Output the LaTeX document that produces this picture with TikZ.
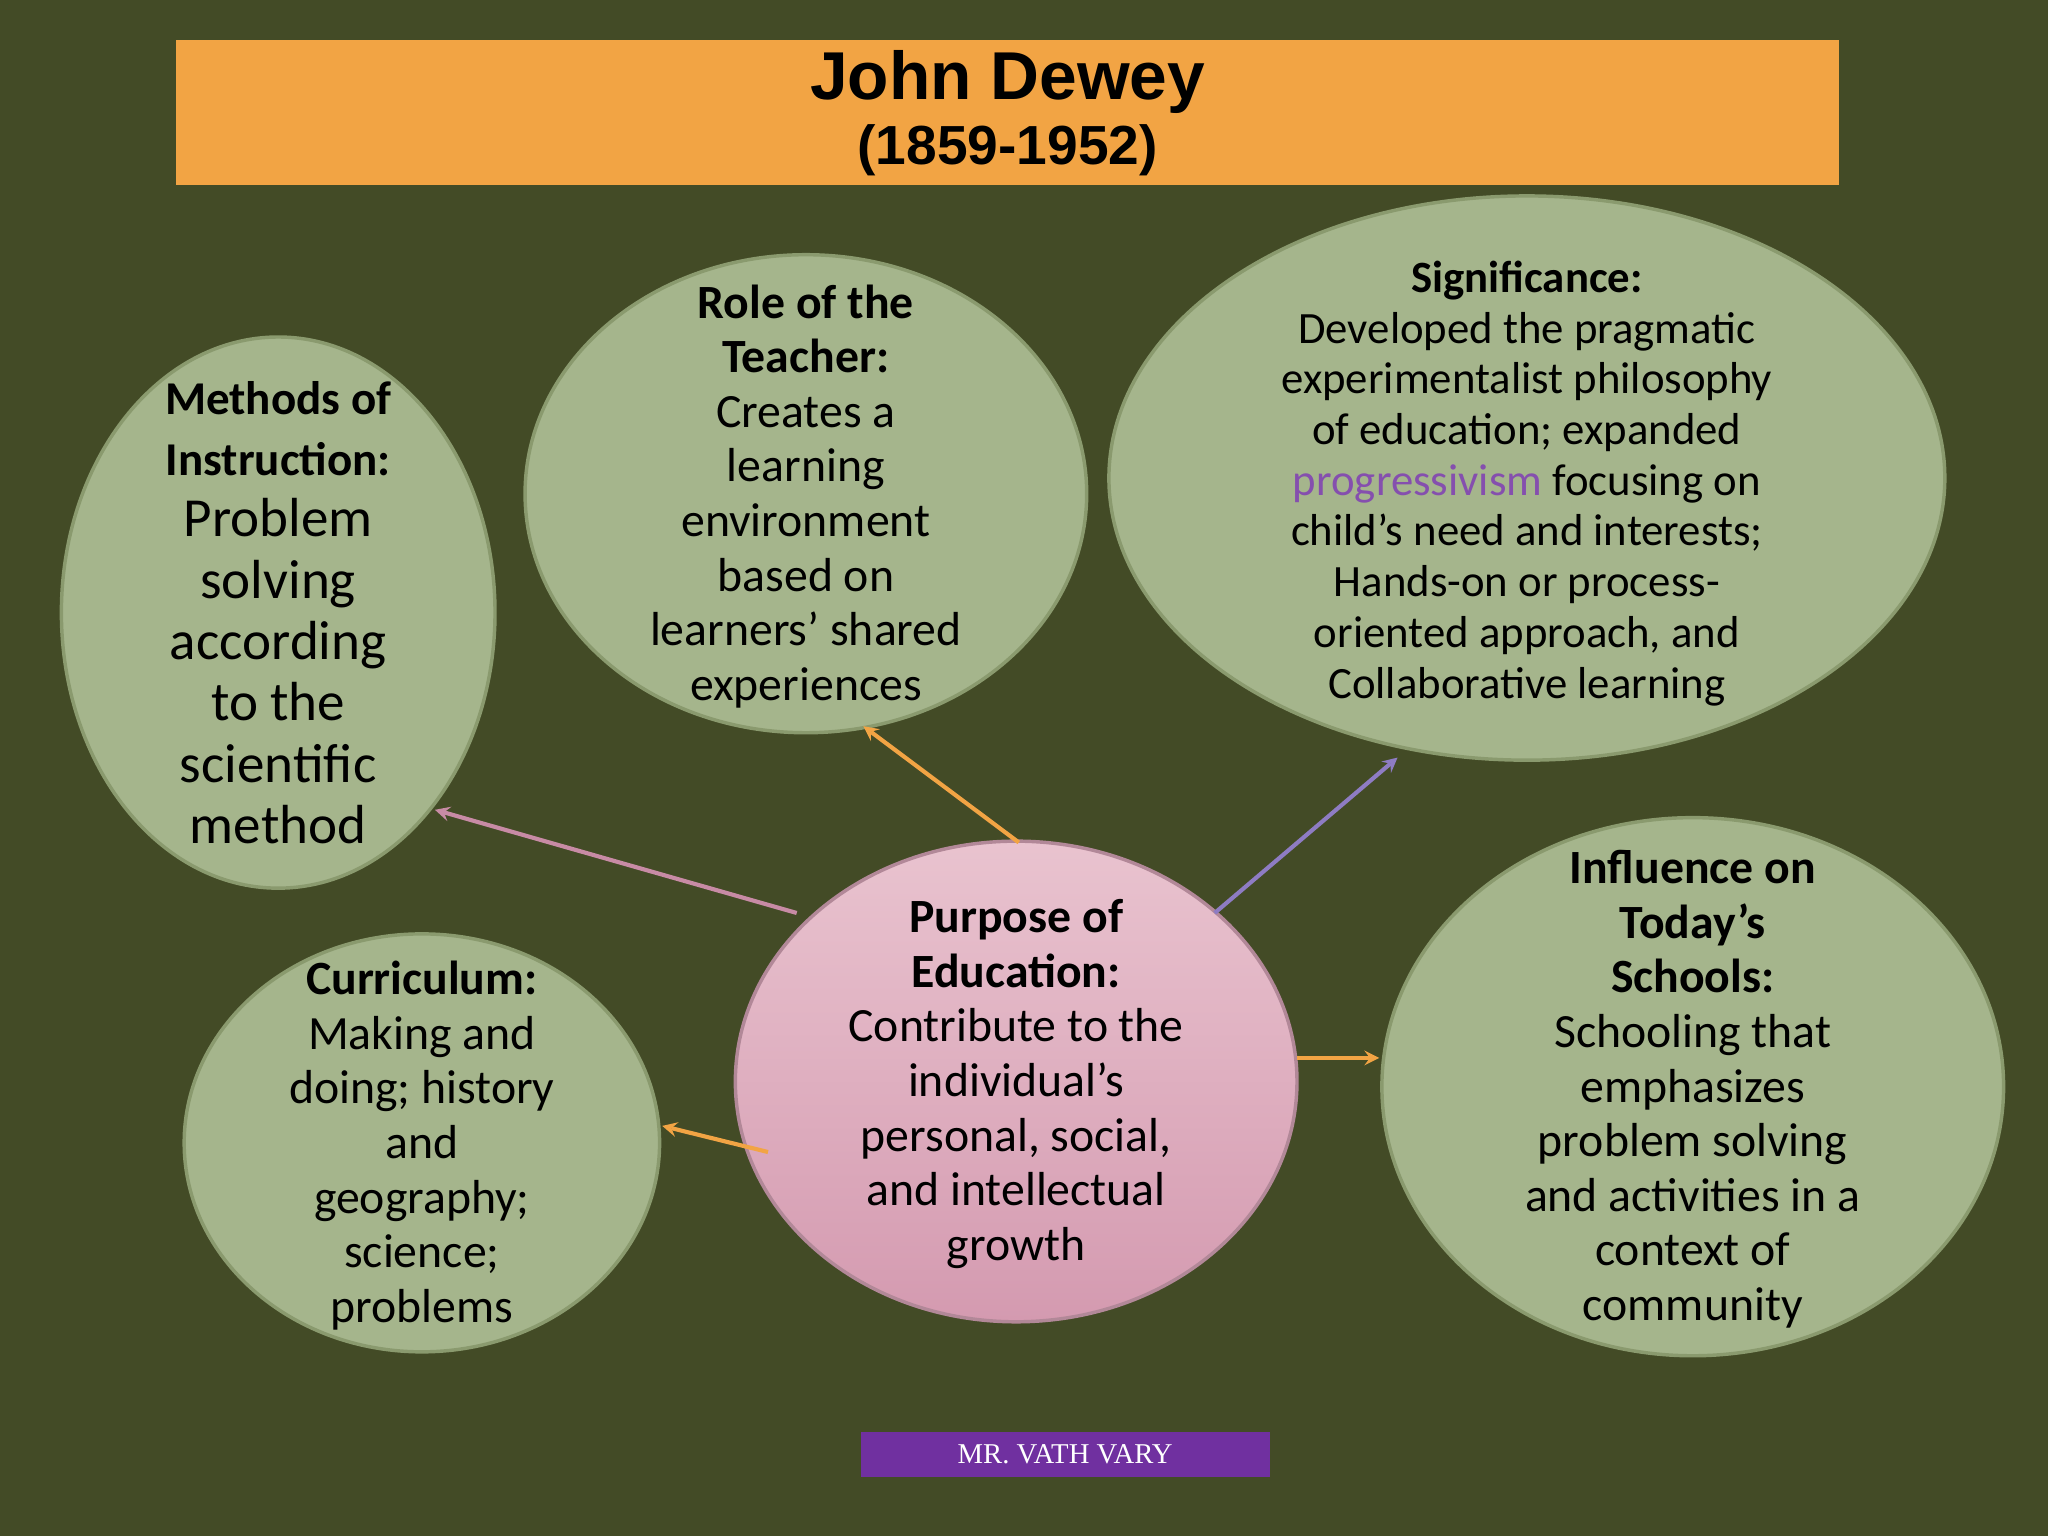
\documentclass[tikz,border=0pt]{standalone}
\usepackage{fontspec}
\setmainfont{Carlito}
\newfontfamily\titlefont{Liberation Sans}
\newfontfamily\seriffont{Liberation Serif}
\begin{document}
\begin{tikzpicture}[x=0.02cm,y=-0.02cm,
  bub/.style={draw=green!20!black!45!white,line width=1.5pt},
  arr/.style={-stealth,line width=1.8pt},
  txt/.style={align=center,text=black}]
\definecolor{bg}{HTML}{434B26}
\definecolor{leaf}{HTML}{A5B58C}
\definecolor{edge}{HTML}{8A9A6E}
\definecolor{orng}{HTML}{F2A444}
\definecolor{pinka}{HTML}{E9C3CF}
\definecolor{pinkb}{HTML}{D49AB0}
\definecolor{pinkarr}{HTML}{C88BA5}
\definecolor{purparr}{HTML}{8E7CC3}
\definecolor{purp}{HTML}{7030A0}
\fill[bg] (0,0) rectangle (1568,1176);
\useasboundingbox (0,0) rectangle (1568,1176);
\node[fill=orng,minimum width=1273*0.02cm,minimum height=111*0.02cm,inner sep=0,align=center,font=\titlefont\bfseries] (title) at (771.5,86.5)
 {{\fontsize{29.5}{32}\selectfont John Dewey}\\[4pt]{\fontsize{24}{28}\selectfont (1859-1952)}};
\filldraw[bub,fill=leaf,draw=edge] (213,469) ellipse [x radius=166,y radius=211];
\filldraw[bub,fill=leaf,draw=edge] (617,378) ellipse [x radius=215,y radius=183];
\filldraw[bub,fill=leaf,draw=edge] (1169,366) ellipse [x radius=320,y radius=216];
\filldraw[bub,fill=leaf,draw=edge] (1296,832) ellipse [x radius=238,y radius=206];
\filldraw[bub,fill=leaf,draw=edge] (323,875) ellipse [x radius=182,y radius=160];
\shade[top color=pinka,bottom color=pinkb] (778,828) ellipse [x radius=215,y radius=184];
\draw[bub,draw=pinkb!80!black!90] (778,828) ellipse [x radius=215,y radius=184];
\node[txt,font=\fontsize{24}{26.7}\selectfont] (meth) at (213,469) {\textbf{\fontsize{20.5}{26.7}\selectfont Methods of}\\\textbf{\fontsize{20.5}{26.7}\selectfont Instruction:}\\Problem\\solving\\according\\to the\\scientific\\method};
\node[txt,font=\fontsize{20.8}{23.8}\selectfont] (role) at (617,380) {\textbf{Role of the}\\\textbf{Teacher:}\\Creates a\\learning\\environment\\based on\\learners’ shared\\experiences};
\node[txt,font=\fontsize{19.5}{22.1}\selectfont] (sig) at (1169,370) {\textbf{Significance:}\\Developed the pragmatic\\experimentalist philosophy\\of education; expanded\\\textcolor{purp!85!white}{progressivism} focusing on\\child’s need and interests;\\Hands-on or process-\\oriented approach, and\\Collaborative learning};
\node[txt,font=\fontsize{20.8}{23.8}\selectfont] (purp) at (778,830) {\textbf{Purpose of}\\\textbf{Education:}\\Contribute to the\\individual’s\\personal, social,\\and intellectual\\growth};
\node[txt,font=\fontsize{20.8}{23.8}\selectfont] (infl) at (1296,834) {\textbf{Influence on}\\\textbf{Today’s}\\\textbf{Schools:}\\Schooling that\\emphasizes\\problem solving\\and activities in a\\context of\\community};
\node[txt,font=\fontsize{20.8}{23.8}\selectfont] (curr) at (323,877) {\textbf{Curriculum:}\\Making and\\doing; history\\and\\geography;\\science;\\problems};
\node[fill=purp,minimum width=313*0.02cm,minimum height=35*0.02cm,inner sep=0,text=white,font=\seriffont\fontsize{12.5}{14}\selectfont] (foot) at (815.5,1113.5) {MR. VATH VARY};
\coordinate (a1s) at (610,699); \coordinate (a1e) at (333,620);
\coordinate (a2s) at (780,645); \coordinate (a2e) at (661,556);
\coordinate (a3s) at (930,699); \coordinate (a3e) at (1070,580);
\coordinate (a4s) at (993,810); \coordinate (a4e) at (1056,810);
\coordinate (a5s) at (588,882); \coordinate (a5e) at (507,862);
\draw[arr,pinkarr] (a1s) -- (a1e);
\draw[arr,orng] (a2s) -- (a2e);
\draw[arr,purparr] (a3s) -- (a3e);
\draw[arr,orng] (a4s) -- (a4e);
\draw[arr,orng] (a5s) -- (a5e);
\end{tikzpicture}
\end{document}
